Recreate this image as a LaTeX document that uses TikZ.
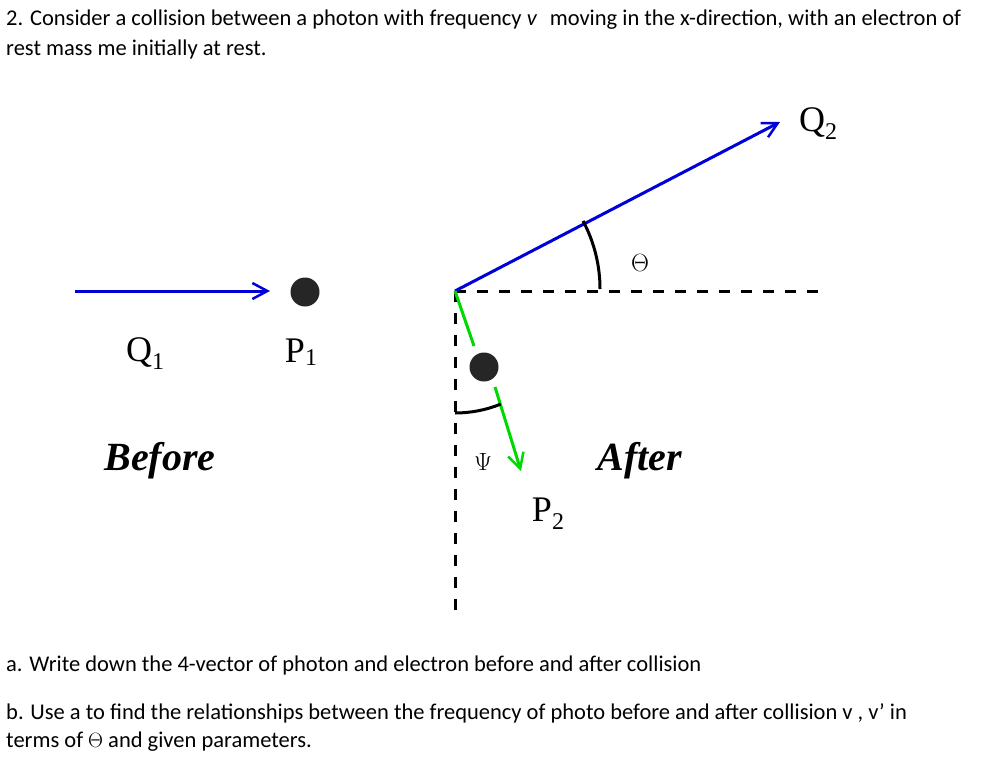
\documentclass[tikz,border=0pt]{standalone}
\usepackage{fontspec}
\setmainfont{Liberation Serif}
\newfontfamily\calfnt{Carlito}
\usetikzlibrary{arrows.meta}
\begin{document}
\begin{tikzpicture}[x=1pt,y=-1pt,
  txt/.style={font=\calfnt\fontsize{22.5}{26}\selectfont,anchor=west,inner sep=0},
  lab/.style={font=\fontsize{36}{38}\selectfont,inner sep=0},
  vec/.style={line width=3pt,-{Straight Barb[length=15pt,width=16pt,line width=2.5pt]}},
  dsh/.style={line width=3pt,dash pattern=on 11pt off 11pt},
  dot/.style={circle,fill=black!85,minimum size=29pt,inner sep=0}]
\useasboundingbox[fill=white] (0,0) rectangle (987,758);
\node[txt] (t1) at (6,20) {2. Consider a collision between a photon with frequency \textit{v}\,\, moving in the x-direction, with an electron of};
\node[txt] (t2) at (6,49) {rest mass me initially at rest.};
% before
\coordinate (qa) at (75,291);
\coordinate (qb) at (270,291);
\draw[vec,blue!85!black] (qa) -- (qb);
\node[dot] (p1) at (305,292) {};
\node[lab] (q1) at (145,354) {Q\raisebox{-8pt}{\fontsize{24}{24}\selectfont 1}};
\node[lab] (p1l) at (301,352) {P\raisebox{-3pt}{\fontsize{24}{24}\selectfont 1}};
\node[lab,font=\bfseries\itshape\fontsize{40}{42}\selectfont] (bef) at (160,461) {Before};
% after
\coordinate (o) at (455,291);
\coordinate (hx) at (828,291);
\coordinate (vy) at (455,612);
\draw[dsh] (o) -- (hx);
\draw[dsh] (o) -- (vy);
\coordinate (q2e) at (780,122);
\draw[vec,blue!85!black] (o) -- (q2e);
\coordinate (g1) at (474,346);
\draw[line width=3pt,green!85!black] (o) -- (g1);
\node[dot] (p2) at (484,367) {};
\coordinate (g2) at (495,387);
\coordinate (g3) at (521,471);
\draw[vec,green!85!black] (g2) -- (g3);
\draw[line width=3pt] (600,289) arc[start angle=0,end angle=-28,radius=145];
\draw[line width=3pt] (455,413) arc[start angle=90,end angle=68,radius=122];
\node[lab,font=\fontsize{28}{30}\selectfont] (th) at (640,263) {$\Theta$};
\node[lab] (q2) at (818,124) {Q\raisebox{-8pt}{\fontsize{24}{24}\selectfont 2}};
\node[lab,font=\fontsize{28}{30}\selectfont] (psi) at (483,462) {$\Psi$};
\node[lab,font=\bfseries\itshape\fontsize{40}{42}\selectfont] (aft) at (640,461) {After};
\node[lab] (p2l) at (548,514) {P\raisebox{-8pt}{\fontsize{24}{24}\selectfont 2}};
% questions
\node[txt] (a) at (6,665) {a. Write down the 4-vector of photon and electron before and after collision};
\node[txt] (b1) at (6,713) {b. Use a to find the relationships between the frequency of photo before and after collision v , v\textquoteright\ in};
\node[txt] (b2) at (6,742) {terms of $\Theta$ and given parameters.};
\end{tikzpicture}
\end{document}
